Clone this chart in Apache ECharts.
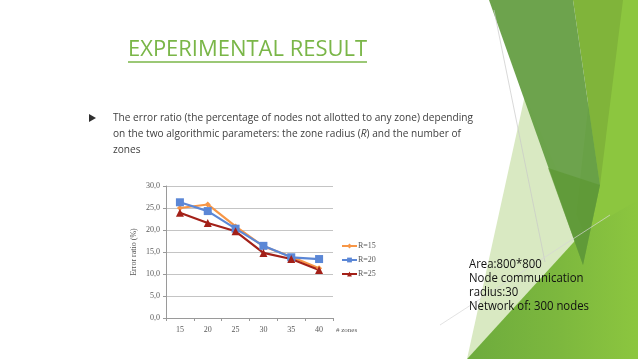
<!DOCTYPE html>
<html><head><meta charset="utf-8">
<script src="https://cdn.jsdelivr.net/npm/echarts@6/dist/echarts.min.js"></script>
<style>html,body{margin:0;padding:0;background:#fff}#c{width:638px;height:359px}</style>
</head><body><div id="c"></div>
<script>
var categories = ['15','20','25','30','35','40'];
var seriesNames = ['R=15','R=20','R=25'];
var r15 = [25.0, 25.8, 20.8, 16.3, 13.9, 11.3];
var r20 = [26.3, 24.3, 20.3, 16.4, 13.8, 13.4];
var r25 = [23.9, 21.6, 19.7, 14.8, 13.4, 10.9];
var yMin = 0, yMax = 30, yStep = 5;
var title = 'EXPERIMENTAL RESULT';
var bulletLines = [
  'The error ratio (the percentage of nodes not allotted to any zone) depending',
  'on the two algorithmic parameters: the zone radius (R) and the number of',
  'zones'
];
var noteLines = ['Area:800*800','Node communication','radius:30','Network of: 300 nodes'];

var ctx = document.createElement('canvas').getContext('2d');
function fitScale(text, size, family, target){
  ctx.font = size + 'px ' + family;
  return target / ctx.measureText(text).width;
}
var SANS = '"Open Sans"';
var SERIF = '"Liberation Serif"';

var graphics = [];
// decorations
graphics.push({type:'polygon', silent:true, z:0, shape:{points:[[600,0],[638,0],[638,359],[560,359]]}, style:{fill:'#8cc63f'}});
graphics.push({type:'polygon', silent:true, z:0, shape:{points:[[525,95],[585,235],[467,359]]}, style:{fill:'#d9e9c2'}});
graphics.push({type:'polygon', silent:true, z:0, shape:{points:[[467,359],[583,232],[638,200],[638,359]]},
  style:{fill:{type:'linear',x:0,y:0,x2:1,y2:0,colorStops:[{offset:0,color:'#6dab3d'},{offset:0.55,color:'#7db83e'},{offset:1,color:'#8cc63f'}]}}});
graphics.push({type:'polygon', silent:true, z:0, shape:{points:[[573,0],[623,0],[600,185]]}, style:{fill:'#80b43a'}});
graphics.push({type:'polygon', silent:true, z:0, shape:{points:[[489,0],[573,0],[600,185],[583,265]]}, style:{fill:'#68a047', opacity:0.97}});
graphics.push({type:'polygon', silent:true, z:0, shape:{points:[[548,168],[600,185],[583,265]]}, style:{fill:'#5a962f', opacity:0.6}});
graphics.push({type:'line', silent:true, z:1, shape:{x1:494,y1:10,x2:545,y2:262}, style:{stroke:'#c9c9c9', lineWidth:0.7}});
graphics.push({type:'line', silent:true, z:1, shape:{x1:440,y1:325,x2:610,y2:215}, style:{stroke:'#d6d6d6', lineWidth:0.7}});

// title
graphics.push({type:'text', z:5, x:128, y:50, scaleX:fitScale(title,21,SANS,239),
  style:{text:title, fontSize:21, fontFamily:'Open Sans', fill:'#7ab648', verticalAlign:'middle'}});
graphics.push({type:'line', z:5, shape:{x1:128,y1:62,x2:367,y2:62}, style:{stroke:'#7ab648', lineWidth:1.5}});
// bullet
graphics.push({type:'polygon', z:5, shape:{points:[[89,114],[96,118],[89,122]]}, style:{fill:'#2f2f2f'}});
var bulletY = [118,134,150];
var bulletScale = fitScale(bulletLines[0],11,SANS,360);
bulletLines.forEach(function(t,i){
  var txt = t.indexOf('(R)') >= 0 ? t.replace('(R)','({i|R})') : t;
  graphics.push({type:'text', z:5, x:113, y:bulletY[i], scaleX:bulletScale,
    style:{text:txt, fontSize:11, fontFamily:'Open Sans', fill:'#404040', verticalAlign:'middle',
      rich:{i:{fontSize:11, fontFamily:'Open Sans', fontStyle:'italic', fill:'#404040'}}}});
});
var noteY = [265,279,293,307];
var noteScale = fitScale(noteLines[3],12,SANS,120);
noteLines.forEach(function(t,i){
  graphics.push({type:'text', z:5, x:469, y:noteY[i], scaleX:noteScale,
    style:{text:t, fontSize:12, fontFamily:'Open Sans', fill:'#111', verticalAlign:'middle'}});
});

var chart = echarts.init(document.getElementById('c'), null, {renderer:'canvas'});
var lw = 2.2;
chart.setOption({
  animation:false,
  backgroundColor:'#fff',
  graphic: graphics,
  grid:{left:166, right:305, top:186, bottom:41, containLabel:false},
  legend:{
    orient:'vertical', left:336, top:237, itemWidth:15, itemHeight:6, itemGap:6,
    data:seriesNames,
    textStyle:{fontFamily:SERIF, fontSize:8, color:'#595959', padding:[0,0,0,-4]}
  },
  xAxis:{
    type:'category', data:categories, boundaryGap:true,
    name:'# zones', nameLocation:'end', nameGap:3,
    nameTextStyle:{fontFamily:SERIF, fontSize:7, color:'#595959', verticalAlign:'top', align:'left', padding:[9,0,0,0]},
    axisLine:{lineStyle:{color:'#9a9a9a', width:1}},
    axisTick:{show:true, length:3, lineStyle:{color:'#9a9a9a'}},
    axisLabel:{fontFamily:SERIF, fontSize:8, color:'#595959', margin:8}
  },
  yAxis:{
    type:'value', min:yMin, max:yMax, interval:yStep,
    name:'Error ratio (%)', nameLocation:'middle', nameGap:28, nameRotate:90,
    nameTextStyle:{fontFamily:SERIF, fontSize:8, color:'#555'},
    axisLine:{show:true, lineStyle:{color:'#9a9a9a'}},
    axisTick:{show:true, length:3, lineStyle:{color:'#9a9a9a'}},
    axisLabel:{fontFamily:SERIF, fontSize:8, color:'#595959', margin:6,
      formatter:function(v){return v.toFixed(1).replace('.',',');}},
    splitLine:{lineStyle:{color:'#c4c4c4', width:1}}
  },
  series:[
    {name:seriesNames[0], type:'line', data:r15, symbol:'diamond', symbolSize:6,
      lineStyle:{color:'#f79646', width:lw}, itemStyle:{color:'#f79646'}},
    {name:seriesNames[1], type:'line', data:r20, symbol:'rect', symbolSize:8,
      lineStyle:{color:'#5b87d6', width:lw}, itemStyle:{color:'#5b87d6'}},
    {name:seriesNames[2], type:'line', data:r25, symbol:'triangle', symbolSize:8,
      lineStyle:{color:'#a32018', width:lw}, itemStyle:{color:'#a32018'}}
  ]
});
</script></body></html>
